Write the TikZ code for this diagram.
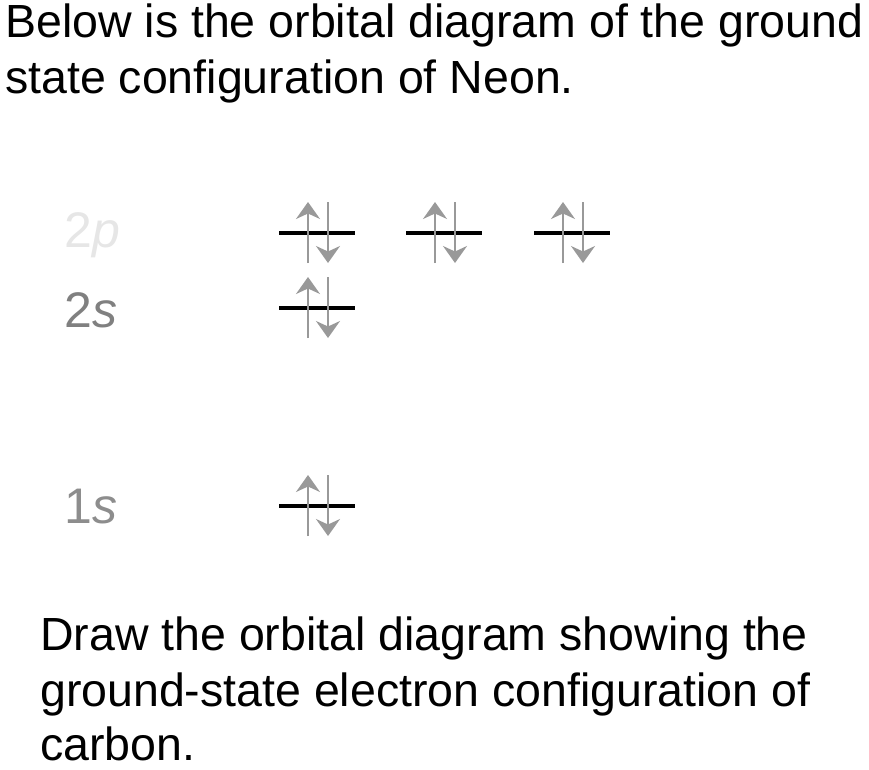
\documentclass[tikz,border=0pt]{standalone}
\usepackage{fontspec}
\setmainfont{Liberation Sans}
\usetikzlibrary{arrows.meta}

\definecolor{faint}{HTML}{E6E6E6}
\definecolor{shell}{HTML}{808080}
\definecolor{spin}{HTML}{999999}

\begin{document}
\begin{tikzpicture}[x=1pt,y=-1pt,
                    >={Stealth[length=17pt,width=24pt]},   % arrow style
                    every node/.style={inner sep=0pt,anchor=base west},
                    prose/.style={font=\fontsize{46.5}{56}\selectfont},
                    shelllabel/.style={font=\fontsize{50}{56}\selectfont},
                    level/.style={line width=4pt,black},
                    electron/.style={line width=2.2pt,spin,->}]

\useasboundingbox (0,0) rectangle (869,769);

% ---------------------------------------------------------------
% Question text
\node[prose] (introA) at (5,37)  {Below is the orbital diagram of the ground};
\node[prose] (introB) at (5,93)  {state configuration of Neon.};

\node[prose] (taskA) at (40,650) {Draw the orbital diagram showing the};
\node[prose] (taskB) at (40,706) {ground-state electron configuration of};
\node[prose] (taskC) at (40,760) {carbon.};

% ---------------------------------------------------------------
% Shell labels
\node[shelllabel,faint] (lab2p) at (64,247) {2\textit{p}};
\node[shelllabel,shell] (lab2s) at (64,327) {2\textit{s}};
\node[shelllabel,shell!90!white] (lab1s) at (64,523) {1\textit{s}};

% ---------------------------------------------------------------
% Orbitals: centre x, level y, name
\foreach \cx/\cy/\nm in {317/233/px, 444/233/py, 572/233/pz,
                         317/308/s2, 317/506/s1}{
  \coordinate (\nm L) at (\cx-38,\cy);
  \coordinate (\nm R) at (\cx+38,\cy);
  \draw[level] (\nm L) -- (\nm R);
  % paired electrons
  \draw[electron] (\cx-9,\cy+30) -- (\cx-9,\cy-31);
  \draw[electron] (\cx+11,\cy-31) -- (\cx+11,\cy+30);
}

\end{tikzpicture}
\end{document}
